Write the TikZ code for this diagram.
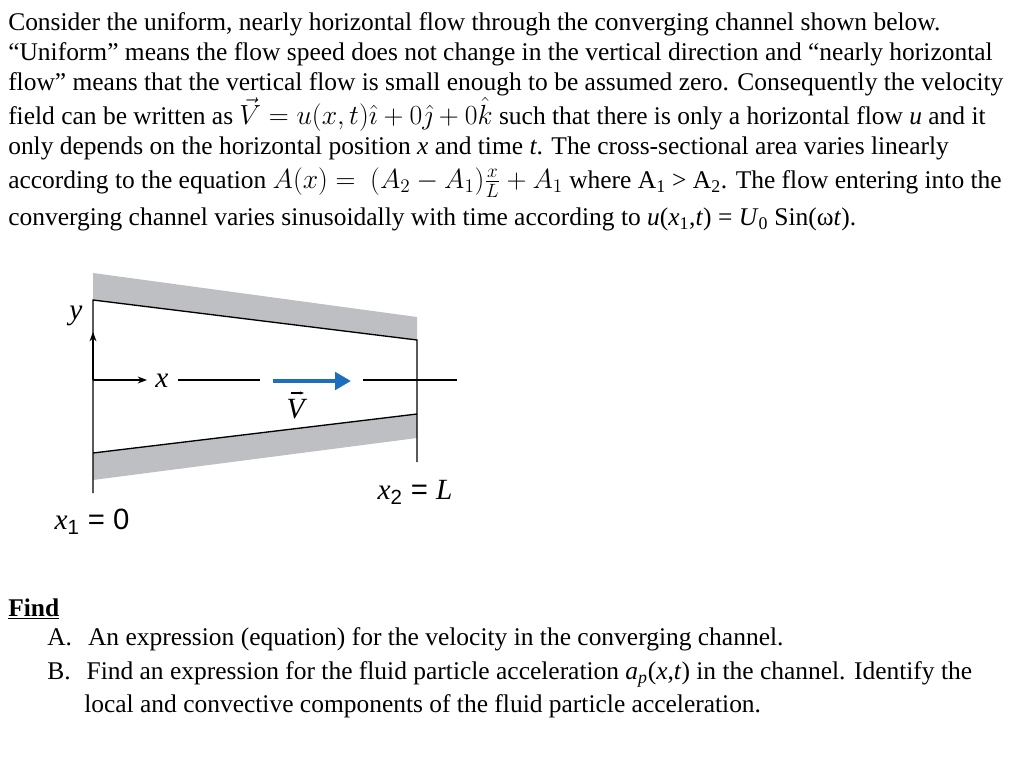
\documentclass[tikz,border=0pt]{standalone}
\usepackage{fontspec}
\setmainfont{Liberation Serif}
\setsansfont{Liberation Sans}
\usetikzlibrary{arrows.meta}
\definecolor{wallgray}{RGB}{190,191,194}
\definecolor{flowblue}{RGB}{30,110,190}
\newcommand{\eqbig}[1]{{\fontsize{21}{21}\selectfont$#1$}}
\begin{document}
\begin{tikzpicture}[x=0.75pt,y=-0.75pt,
  txt/.style={anchor=base west,inner sep=0pt,font=\fontsize{19.1}{22}\selectfont},
  lbl/.style={inner sep=0pt,font=\fontsize{22}{24}\selectfont},
  wall/.style={draw=black,line width=1pt},
  ax/.style={line width=0.9pt}]
\useasboundingbox (0,0) rectangle (1024,760);
\node[txt] (l1) at (8,30) {Consider the uniform, nearly horizontal flow through the converging channel shown below.};
\node[txt] (l2) at (8,60) {“Uniform” means the flow speed does not change in the vertical direction and “nearly horizontal};
\node[txt] (l3) at (8,90) {flow” means that the vertical flow is small enough to be assumed zero. Consequently the velocity};
\node[txt] (l4) at (8,124) {field can be written as \eqbig{\vec V = u(x,t)\hat\imath + 0\hat\jmath + 0\hat k} such that there is only a horizontal flow \textit{u} and it};
\node[txt] (l5) at (8,154) {only depends on the horizontal position \textit{x} and time \textit{t}. The cross-sectional area varies linearly};
\node[txt] (l6) at (8,188) {according to the equation \eqbig{A(x) =\ (A_2 - A_1)\frac{x}{L} + A_1} where A\textsubscript{1} > A\textsubscript{2}. The flow entering into the};
\node[txt] (l7) at (8,225) {converging channel varies sinusoidally with time according to \textit{u}(\textit{x}\textsubscript{1},\textit{t}) = \textit{U}\textsubscript{0} Sin(ω\textit{t}).};
% diagram
\fill[wallgray] (93,273) -- (417,317) -- (417,340) -- (93,300) -- cycle;
\fill[wallgray] (93,453) -- (417,414) -- (417,438) -- (93,480) -- cycle;
\coordinate (tl) at (93,300); \coordinate (tr) at (417,340);
\coordinate (bl) at (93,453); \coordinate (br) at (417,414);
\coordinate (lb) at (93,493); \coordinate (rb) at (417,462);
\draw[wall] (lb) -- (tl) -- (tr) -- (rb);
\draw[wall] (bl) -- (br);
\coordinate (o) at (93,380);
\coordinate (yt) at (93,332);
\coordinate (xt) at (147,380);
\draw[ax,-{Stealth[length=7pt]}] (o) -- (yt);
\draw[ax,-{Stealth[length=7pt]}] (o) -- (xt);
\node[lbl] (ylab) at (76,316) {\textit{y}};
\node[lbl] (xlab) at (162,381) {\textit{x}};
\coordinate (d1a) at (178,380); \coordinate (d1b) at (260,380);
\coordinate (d2a) at (363,380); \coordinate (d2b) at (457,380);
\draw[ax] (d1a) -- (d1b);
\draw[ax] (d2a) -- (d2b);
\coordinate (va) at (273,381); \coordinate (vb) at (351,381);
\draw[flowblue,line width=3pt,-{Triangle[length=12pt,width=13pt]}] (va) -- (vb);
\node[lbl] (vlab) at (297,409) {\textit{V}};
\draw[ax,-{Stealth[length=3pt]}] (291,393) -- (304,393);
\node[lbl] (x2) at (415,492) {\textit{x}\textsf{\textsubscript{2} = }\textit{L}};
\node[lbl] (x1) at (92,522) {\textit{x}\textsf{\textsubscript{1} = 0}};
% find
\node[txt] (find) at (8,616) {\textbf{\underline{Find}}};
\node[txt] (fa) at (47,645) {A.\hspace{12pt}An expression (equation) for the velocity in the converging channel.};
\node[txt] (fb) at (47,679) {B.\hspace{12pt}Find an expression for the fluid particle acceleration \textit{a\textsubscript{p}}(\textit{x},\textit{t}) in the channel. Identify the};
\node[txt] (fc) at (84,712) {local and convective components of the fluid particle acceleration.};
\end{tikzpicture}
\end{document}
